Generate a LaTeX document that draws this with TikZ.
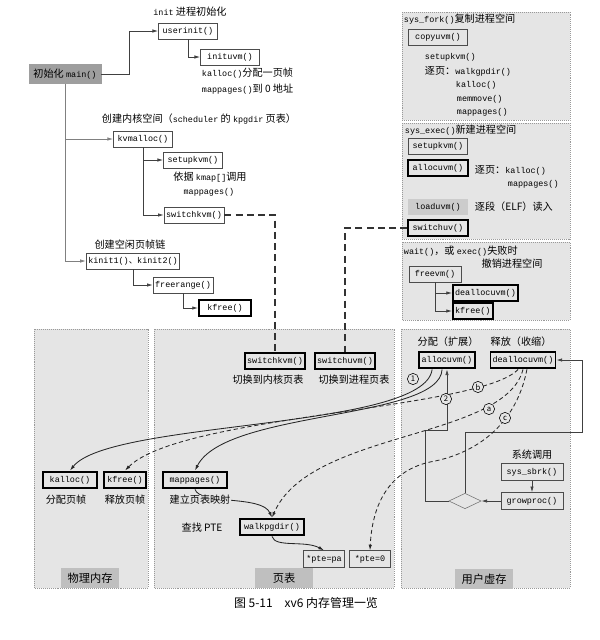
\documentclass[tikz,border=0pt]{standalone}
\usepackage{fontspec}
\setmainfont{Noto Sans CJK SC}
\setmonofont{Liberation Mono}
\usetikzlibrary{arrows.meta,shapes.geometric}
\newcommand{\fn}[1]{{\fontsize{6}{7}\selectfont\ttfamily #1}}

\begin{document}
\begin{tikzpicture}[x=0.025cm, y=-0.025cm,
fn/.style = {draw=black!70, line width=0.5pt, inner xsep=1.5pt, inner ysep=0pt, minimum width=42pt, minimum height=11.5pt, font=\fontsize{6}{7}\selectfont\ttfamily},
fnb/.style = {fn, draw=black, line width=1.4pt, minimum height=12pt},
txt/.style = {inner sep=0.5pt, font=\fontsize{7.2}{8}\selectfont},
pnl/.style = {draw=black!40, densely dotted, fill=black!10},
tab/.style = {fill=black!25, minimum width=41pt, minimum height=12pt, font=\fontsize{8}{9}\selectfont},
arr/.style = {-{Latex[length=4pt,width=2.4pt]}, draw=black!75, line width=0.5pt},
dsh/.style = {dash pattern=on 5pt off 3pt, line width=0.9pt, draw=black!80},
crv/.style = {-{Latex[length=4pt,width=2.4pt]}, line width=0.6pt, draw=black!85},
num/.style = {draw, circle, fill=black!10, inner sep=0.4pt, minimum size=8pt, font=\fontsize{5.5}{6}\selectfont}
]
\useasboundingbox (0,0) rectangle (600,640);
\foreach \xa/\ya/\xb/\yb in {402/12/570/120, 402/123/570/239, 402/242/570/320, 34/329/148/588, 154/329/394/588, 401/329/570/588}{\draw[pnl] (\xa,\ya) rectangle (\xb,\yb);}

% kernel init
\node[txt] (tinit) at (190,12) {\fn{init} 进程初始化};
\node[fn] (userinit) at (188,31) {userinit()};
\node[fn] (inituvm) at (230,57) {inituvm()};
\node[txt, anchor=west] (t1) at (201,73) {\fn{kalloc()}分配一页帧};
\node[txt, anchor=west] (t2) at (201,89) {\fn{mappages()}到 0 地址};
\node[fn, fill=black!38, draw=black!38, minimum width=51pt, minimum height=13.5pt, font=\fontsize{7.2}{8}\selectfont] (main) at (65,74) {初始化 \fn{main()}};
\node[txt] (tkern) at (199,119) {创建内核空间（\fn{scheduler} 的 \fn{kpgdir} 页表）};
\node[fn] (kvmalloc) at (143,139) {kvmalloc()};
\node[fn] (setupkvm) at (193,160) {setupkvm()};
\node[txt] (t3) at (210,177) {依据 \fn{kmap[]}调用};
\node[txt] (t4) at (209,192) {\fn{mappages()}};
\node[fn] (kvm1) at (194,215) {switchkvm()};
\node[txt] (tfree) at (130,245) {创建空闲页帧链};
\node[fn] (kinit) at (133,261) {kinit1(){\rmfamily 、}kinit2()};
\node[fn] (freerange) at (183,285) {freerange()};
\node[fnb, minimum width=37pt] (kfree1) at (225,308) {kfree()};

% fork, exec, wait
\node[txt, anchor=west] (tfork) at (403,19) {\fn{sys\_fork()}复制进程空间};
\node[fn] (copyuvm) at (438,37) {copyuvm()};
\node[txt, anchor=west] (t5) at (424,57) {\fn{setupkvm()}};
\node[txt, anchor=west] (t6) at (424,71) {逐页：\fn{walkgpdir()}};
\node[txt, anchor=west] (t7) at (455,85) {\fn{kalloc()}};
\node[txt, anchor=west] (t8) at (456,99) {\fn{memmove()}};
\node[txt, anchor=west] (t9) at (456,112) {\fn{mappages()}};
\node[txt, anchor=west] (texec) at (404,130) {\fn{sys\_exec()}新建进程空间};
\node[fn] (setupkvm2) at (438,146) {setupkvm()};
\node[fnb] (allocuvm1) at (438,168) {allocuvm()};
\node[txt, anchor=west] (t10) at (474,170) {逐页：\fn{kalloc()}};
\node[txt, anchor=west] (t11) at (507,184) {\fn{mappages()}};
\node[fn, draw=none, fill=black!20] (loaduvm) at (438,207) {loaduvm()};
\node[txt, anchor=west] (t12) at (474,207) {逐段（ELF）读入};
\node[fnb] (uvm1) at (438,228) {switchuv()};
\node[txt, anchor=west] (twait) at (403,251) {\fn{wait()}，或 \fn{exec()}失败时};
\node[txt] (t13) at (512,264) {撤销进程空间};
\node[fn, minimum width=37pt] (freevm) at (435,274) {freevm()};
\node[fnb, anchor=west, minimum height=11pt] (dealloc1) at (452,293) {deallocuvm()};
\node[fnb, anchor=west, minimum width=28pt, minimum height=11pt] (kfree2) at (452,311) {kfree()};

% bottom panels
\node[fnb, minimum width=38pt] (kalloc) at (70,480) {kalloc()};
\node[txt] (t14) at (66,500) {分配页帧};
\node[fnb, minimum width=30pt] (kfree3) at (125,480) {kfree()};
\node[txt] (t15) at (125,500) {释放页帧};
\node[tab] (tphys) at (90,578) {物理内存};
\node[fnb] (kvm2) at (275,361) {switchkvm()};
\node[fnb] (uvm2) at (345,361) {switchuvm()};
\node[txt] (t16) at (268,380) {切换到内核页表};
\node[txt] (t17) at (354,380) {切换到进程页表};
\node[fnb, minimum width=46pt] (mappages) at (195,480) {mappages()};
\node[txt] (t18) at (202,528) {查找 PTE};
\node[fnb, minimum width=46pt] (walk) at (272,527) {walkpgdir()};
\node[fn, minimum width=29pt, line width=0.8pt] (ptepa) at (324,559) {*pte=pa};
\node[fn, minimum width=29pt, line width=0.8pt] (ptez) at (370,559) {*pte=0};
\node[tab] (tpage) at (284,578) {页表};
\node[txt] (t19) at (448,342) {分配（扩展）};
\node[txt] (t20) at (521,342) {释放（收缩）};
\node[fnb, minimum width=40pt] (alloc2) at (447,360) {allocuvm()};
\node[fnb] (dealloc2) at (523,360) {deallocuvm()};
\node[txt] (tsys) at (532,455) {系统调用};
\node[fn, minimum width=44pt, minimum height=12pt] (sbrk) at (532,472) {sys\_sbrk()};
\node[fn, minimum width=44pt, minimum height=12pt] (grow) at (532,501) {growproc()};
\node[draw=black!55, diamond, inner sep=0pt, minimum width=23pt, minimum height=11pt] (dia) at (465,501) {};
\node[tab] (tuser) at (484,579) {用户虚存};

\draw[arr] (main.east) -- ++(28,0) |- (userinit.west);
\draw[arr, draw=black!50] (main.south) |- (kinit.west);
\draw[arr, draw=black!50] (main.south |- kvmalloc.west) -- (kvmalloc.west);
\foreach \a/\b in {userinit/inituvm, kvmalloc/setupkvm, kvmalloc/kvm1, kinit/freerange, freerange/kfree1, freevm/dealloc1, freevm/kfree2}{\draw[arr] (\a.south) |- (\b.west);}
\draw[dsh] (kvm1.east) -| (kvm2.north);
\draw[dsh] (uvm1.west) -| (uvm2.north);
\draw[arr] (sbrk.south) -- (grow.north);
\draw[arr] (grow.west) -- (dia.east);
\draw[arr] (dia.west) -| (425,430) -| (alloc2.south);
\draw[arr] (dia.north) |- (582,432) |- (dealloc2.east);

\draw[crv] ([xshift=-10.6pt]alloc2.south) .. controls (425,430) and (110,420) .. (kalloc.north);
\draw[crv] ([xshift=-3.5pt]alloc2.south) .. controls (440,420) and (225,410) .. (mappages.north);
\draw[crv, dash pattern=on 3pt off 2pt] ([xshift=-3.5pt]dealloc2.south) .. controls (480,410) and (180,415) .. (kfree3.north);
\draw[crv, dash pattern=on 3pt off 2pt] (dealloc2.south) .. controls (505,440) and (310,430) .. (walk.north);
\draw[crv, dash pattern=on 3pt off 2pt] ([xshift=2.8pt]dealloc2.south) .. controls (515,430) and (470,455) .. (430,462) .. controls (385,472) and (372,510) .. (ptez.north);
\draw[crv] (mappages.south) .. controls (200,505) and (262,495) .. (walk.north);
\draw[crv] (walk.south) .. controls (275,548) and (305,540) .. (ptepa.north);
\node[txt, fill=black!10] (t21) at (200,500) {建立页表映射};
\foreach \n/\p in {1/{413,379}, 2/{446,399}, b/{478,387}, a/{489,409}, c/{505,418}}{\node[num] (c\n) at (\p) {\n};}

\node[font=\fontsize{8.5}{10}\selectfont] (cap) at (306,603) {图 5-11\quad xv6 内存管理一览};
\end{tikzpicture}
\end{document}
